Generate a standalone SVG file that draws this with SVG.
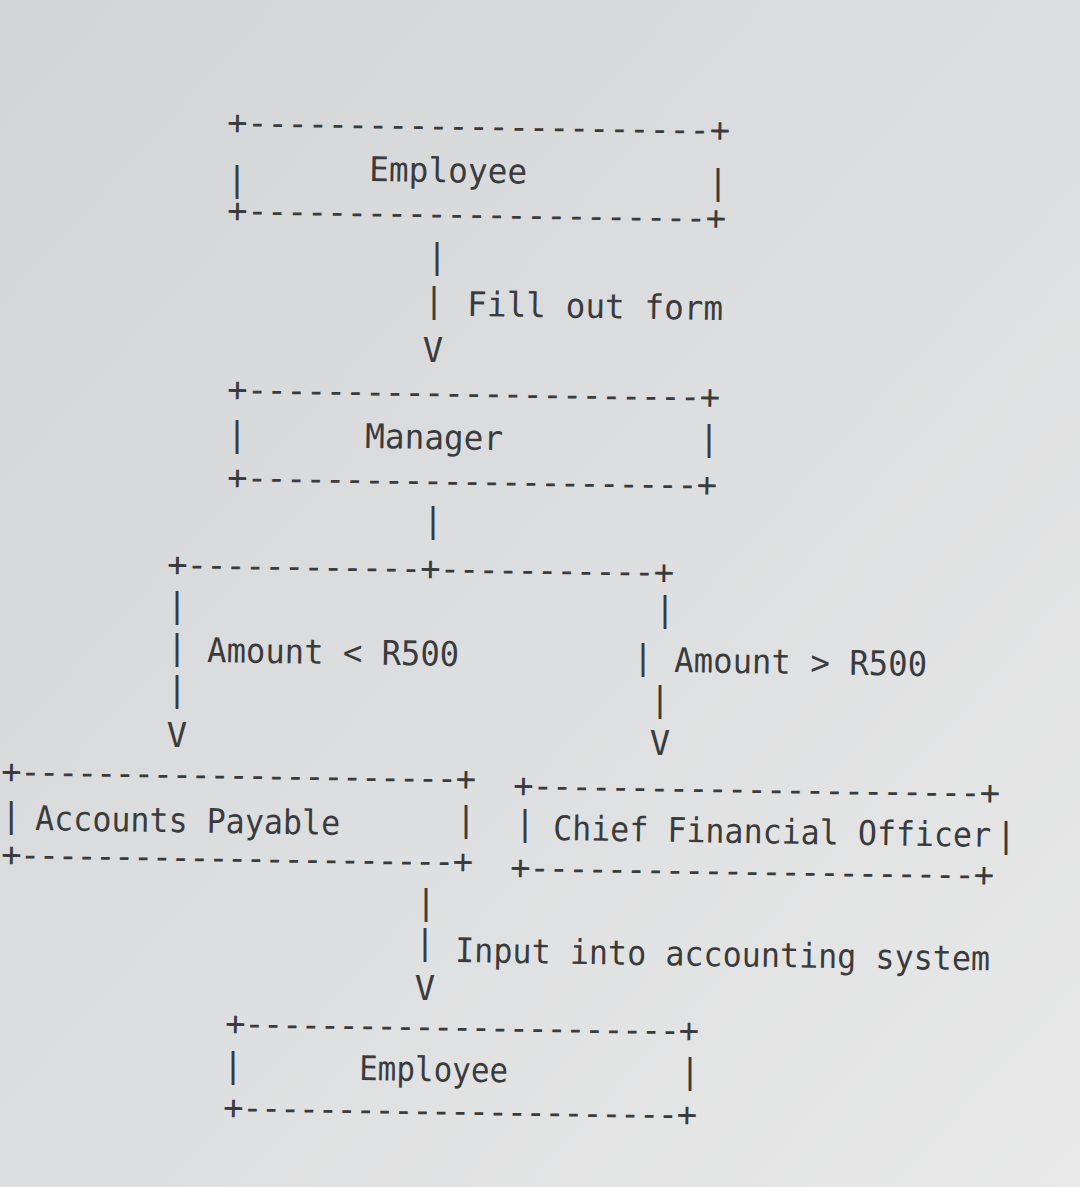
<svg xmlns="http://www.w3.org/2000/svg" width="1080" height="1187" viewBox="0 0 1080 1187">
<style>
.t{font-family:"DejaVu Sans Mono","Liberation Mono",monospace;font-size:34px;fill:#3a3b3d;white-space:pre}
.m{text-anchor:middle}
</style>
<defs>
<linearGradient id="bg" x1="0" y1="0" x2="1" y2="1">
<stop offset="0" stop-color="#d3d4d6"/>
<stop offset="0.55" stop-color="#dedfe0"/>
<stop offset="1" stop-color="#e9e9e9"/>
</linearGradient>
</defs>
<rect width="1080" height="1187" fill="url(#bg)"/>

<g id="node-employee-top">
<text class="t" x="227" y="134" textLength="503" lengthAdjust="spacing" transform="rotate(0.9 227 134)">+-----------------------+</text>
<text class="t m" x="237" y="191">|</text>
<text class="t" x="369" y="181" textLength="158" lengthAdjust="spacingAndGlyphs" transform="rotate(0.9 369 181)">Employee</text>
<text class="t m" x="718" y="194">|</text>
<text class="t" x="227" y="222" textLength="499" lengthAdjust="spacing" transform="rotate(0.9 227 222)">+-----------------------+</text>
</g>

<g id="node-manager">
<text class="t" x="227" y="401" textLength="493" lengthAdjust="spacing" transform="rotate(0.9 227 401)">+-----------------------+</text>
<text class="t m" x="237" y="446">|</text>
<text class="t" x="365" y="448" textLength="138" lengthAdjust="spacingAndGlyphs" transform="rotate(0.9 365 448)">Manager</text>
<text class="t m" x="709" y="450">|</text>
<text class="t" x="227" y="489" textLength="490" lengthAdjust="spacing" transform="rotate(0.9 227 489)">+-----------------------+</text>
</g>

<g id="node-accounts-payable">
<text class="t" x="1" y="783" textLength="475" lengthAdjust="spacing" transform="rotate(0.9 1 783)">+-----------------------+</text>
<text class="t" x="1" y="827">|</text>
<text class="t" x="35" y="830" textLength="305" lengthAdjust="spacingAndGlyphs" transform="rotate(0.9 35 830)">Accounts Payable</text>
<text class="t m" x="466" y="831">|</text>
<text class="t" x="1" y="866" textLength="472" lengthAdjust="spacing" transform="rotate(0.9 1 866)">+-----------------------+</text>
</g>

<g id="node-cfo">
<text class="t" x="513" y="797" textLength="487" lengthAdjust="spacing" transform="rotate(0.9 513 797)">+-----------------------+</text>
<text class="t m" x="525" y="835">|</text>
<text class="t" x="553" y="840" textLength="438" lengthAdjust="spacingAndGlyphs" transform="rotate(0.9 553 840)">Chief Financial Officer</text>
<text class="t m" x="1006" y="847">|</text>
<text class="t" x="510" y="879" textLength="484" lengthAdjust="spacing" transform="rotate(0.9 510 879)">+-----------------------+</text>
</g>

<g id="node-employee-bottom">
<text class="t" x="225" y="1035" textLength="474" lengthAdjust="spacing" transform="rotate(0.9 225 1035)">+-----------------------+</text>
<text class="t m" x="233" y="1077">|</text>
<text class="t" x="359" y="1080" textLength="149" lengthAdjust="spacingAndGlyphs" transform="rotate(0.9 359 1080)">Employee</text>
<text class="t m" x="690" y="1083">|</text>
<text class="t" x="223" y="1119" textLength="474" lengthAdjust="spacing" transform="rotate(0.9 223 1119)">+-----------------------+</text>
</g>

<g id="connectors">
<text class="t m" x="437" y="268">|</text>
<text class="t m" x="434" y="312">|</text>
<text class="t" x="467" y="316" textLength="256" lengthAdjust="spacingAndGlyphs" transform="rotate(0.9 467 316)">Fill out form</text>
<text class="t m" x="433" y="362">V</text>

<text class="t m" x="433" y="532">|</text>
<text class="t" x="167" y="576" textLength="507" lengthAdjust="spacing" transform="rotate(0.9 167 576)">+------------+-----------+</text>

<text class="t m" x="177" y="617">|</text>
<text class="t m" x="177" y="659">|</text>
<text class="t" x="207" y="662" textLength="252" lengthAdjust="spacingAndGlyphs" transform="rotate(0.9 207 662)">Amount &lt; R500</text>
<text class="t m" x="177" y="701">|</text>
<text class="t m" x="177" y="747">V</text>

<text class="t m" x="665" y="621">|</text>
<text class="t m" x="643" y="669">|</text>
<text class="t" x="674" y="672" textLength="253" lengthAdjust="spacingAndGlyphs" transform="rotate(0.9 674 672)">Amount &gt; R500</text>
<text class="t m" x="660" y="711">|</text>
<text class="t m" x="660" y="755">V</text>

<text class="t m" x="426" y="914">|</text>
<text class="t m" x="425" y="954">|</text>
<text class="t" x="455" y="962" textLength="535" lengthAdjust="spacingAndGlyphs" transform="rotate(0.9 455 962)">Input into accounting system</text>
<text class="t m" x="425" y="1000">V</text>
</g>
</svg>
